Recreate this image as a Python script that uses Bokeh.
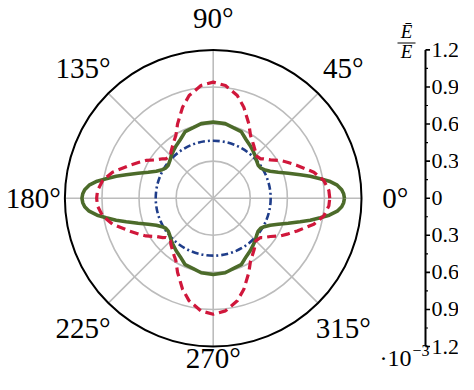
import numpy as np
from bokeh.plotting import figure
from bokeh.models import Range1d
from bokeh.core.properties import value
from bokeh.embed import file_html
from bokeh.resources import INLINE

# ---------------- data (first quadrant; figure is mirror-symmetric) ----------------
green_theta = [0, 1.97, 3.78, 5.99, 8.34, 10.33, 12.78, 15.12, 18.43, 21.8, 25.35, 29.2, 32.28,
               36.25, 40.38, 45, 49.6, 54.83, 60.57, 67.16, 74.16, 80.85, 90]
green_r = [1.062, 1.056, 1.042, 1.009, 0.949, 0.880, 0.805, 0.729, 0.640, 0.566, 0.510, 0.473, 0.455,
           0.451, 0.462, 0.481, 0.499, 0.520, 0.543, 0.584, 0.593, 0.611, 0.617]

red_theta = [0, 3.8, 9.1, 14.5, 21.3, 25.9, 29.3, 33.8, 38.0, 39.7, 45, 47.4, 52.0, 55.9, 59.2,
             64.4, 71.4, 76.8, 83.8, 90]
red_r = [0.943, 0.938, 0.906, 0.841, 0.729, 0.666, 0.624, 0.557, 0.518, 0.498, 0.488, 0.506, 0.535,
         0.563, 0.590, 0.667, 0.777, 0.853, 0.917, 0.939]

blue_r = [0.465]

grid_r = [0.3, 0.6, 0.9]
outer_r = [1.2]
spoke_angles = [0, 45, 90, 135, 180, 225, 270, 315]
angle_labels = ["0°", "45°", "90°", "135°", "180°", "225°", "270°", "315°"]

r_ticks = [-1.2, -0.9, -0.6, -0.3, 0.0, 0.3, 0.6, 0.9, 1.2]
r_tick_labels = ["1.2", "0.9", "0.6", "0.3", "0", "0.3", "0.6", "0.9", "1.2"]
r_minor = [-1.05, -0.75, -0.45, -0.15, 0.15, 0.45, 0.75, 1.05]
axis_title = ["Ē", "E"]
multiplier = ["·10", "−3"]

# ---------------- helpers ----------------
def full_curve(theta, r):
    t1, r1 = list(theta), list(r)
    t2 = [180 - t for t in reversed(theta)][1:]
    r2 = list(reversed(r))[1:]
    t3 = [180 + t for t in theta][1:]
    r3 = list(r)[1:]
    t4 = [360 - t for t in reversed(theta)][1:]
    r4 = list(reversed(r))[1:]
    T = np.radians(t1 + t2 + t3 + t4)
    R = np.array(r1 + r2 + r3 + r4)
    return R * np.cos(T), R * np.sin(T)

SERIF = "Liberation Serif"
PX = 1 / 123.6          # one screen pixel in data units
W, H = 458, 374
CX, CY = 212.7, 197.7   # polar centre inside the canvas, px

def ypx(Y):             # canvas row -> data y
    return (CY - Y) * PX

p = figure(width=W, height=H,
           x_range=Range1d(-CX * PX, (W - CX) * PX), y_range=Range1d(-(H - CY) * PX, CY * PX),
           output_backend="svg", toolbar_location=None,
           x_axis_location=None, y_axis_location=None,
           min_border_left=0, min_border_top=0, min_border_bottom=0, min_border_right=0)
p.grid.visible = False
p.outline_line_color = None
p.background_fill_color = "white"

# grid
p.circle(x=[0] * len(grid_r), y=[0] * len(grid_r), radius=grid_r,
         fill_color=None, line_color="#bcbcbc", line_width=1.6)
sa = np.radians(spoke_angles)
p.segment(x0=[0] * len(sa), y0=[0] * len(sa), x1=outer_r[0] * np.cos(sa), y1=outer_r[0] * np.sin(sa),
          line_color="#bcbcbc", line_width=1.6)
p.circle(x=[0], y=[0], radius=outer_r, fill_color=None, line_color="black", line_width=2)

# curves
p.circle(x=[0], y=[0], radius=blue_r, fill_color=None, line_color="#1f3d8a",
         line_width=2.6, line_dash="7 3 2 3")
gx, gy = full_curve(green_theta, green_r)
p.line(gx, gy, line_color="#4c6b2a", line_width=3.6)
rx, ry = full_curve(red_theta, red_r)
p.line(rx, ry, line_color="#d0173b", line_width=3.2, line_dash="9 5")

# angle labels (label distance from the centre, in px)
lab_px = {0: 182, 90: 180, 180: 180, 270: 160}
lab_r = np.array([lab_px.get(a, 184) * PX for a in spoke_angles])
p.text(x=lab_r * np.cos(sa), y=lab_r * np.sin(sa), text=angle_labels,
       text_font=value(SERIF), text_font_size="29px", text_color="black",
       text_align="center", text_baseline="middle")

# radial axis on the right (drawn with the data scale)
ax_x = (425 - CX) * PX
p.segment(x0=[ax_x], y0=[min(r_ticks)], x1=[ax_x], y1=[max(r_ticks)], line_color="black", line_width=2)
p.segment(x0=[ax_x] * len(r_ticks), y0=r_ticks, x1=[ax_x + 4.5 * PX] * len(r_ticks), y1=r_ticks,
          line_color="black", line_width=1.6)
p.segment(x0=[ax_x] * len(r_minor), y0=r_minor, x1=[ax_x + 2.5 * PX] * len(r_minor), y1=r_minor,
          line_color="black", line_width=1.2)
p.text(x=[ax_x + 6 * PX] * len(r_ticks), y=r_ticks, text=r_tick_labels,
       text_font=value(SERIF), text_font_size="22px", text_color="black",
       text_align="left", text_baseline="middle")

# axis title: E-bar over E
tx = ax_x - 19 * PX
p.text(x=[tx], y=[ypx(31)], text=[axis_title[0]], text_font=value(SERIF), text_font_style="italic",
       text_font_size="19px", text_align="center", text_baseline="middle")
p.segment(x0=[tx - 9 * PX], y0=[ypx(42.5)], x1=[tx + 9 * PX], y1=[ypx(42.5)], line_color="black", line_width=1)
p.text(x=[tx], y=[ypx(51)], text=[axis_title[1]], text_font=value(SERIF), text_font_style="italic",
       text_font_size="19px", text_align="center", text_baseline="middle")

# multiplier (below the axis, kept clear of the last tick label)
p.text(x=[ax_x - 14 * PX], y=[ypx(357)], text=[multiplier[0]], text_font=value(SERIF),
       text_font_size="24px", text_align="right", text_baseline="middle")
p.text(x=[ax_x - 13 * PX], y=[ypx(350)], text=[multiplier[1]], text_font=value(SERIF),
       text_font_size="16px", text_align="left", text_baseline="middle")

open("out.html", "w").write(file_html(p, INLINE))
